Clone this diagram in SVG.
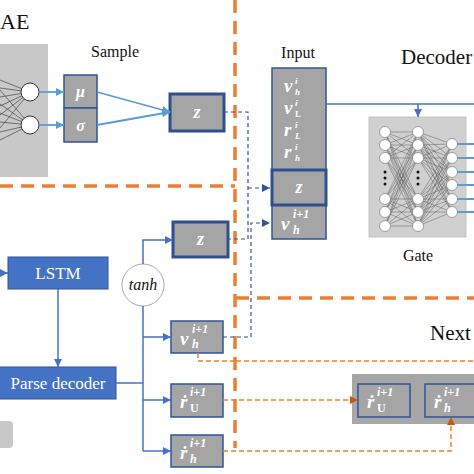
<svg xmlns="http://www.w3.org/2000/svg" width="474" height="474" viewBox="0 0 474 474">
<style>
.lbl{font-family:"Liberation Serif",serif;fill:#111}
.m{font-family:"Liberation Serif",serif;font-style:italic;font-weight:bold;fill:#fff}
.up{font-family:"Liberation Serif",serif;font-weight:bold;fill:#fff}
.box{fill:#a5a5a5;stroke:#2f5597;stroke-width:1.5}
.zbox{fill:#a5a5a5;stroke:#2f4f8f;stroke-width:3}
.blue{fill:#4472c4;stroke:#2f5597;stroke-width:1}
.ln{fill:none;stroke:#4472c4;stroke-width:1.5}
.lb{fill:none;stroke:#5b9bd5;stroke-width:1.8}
.bd{fill:none;stroke:#2f5597;stroke-width:1.2;stroke-dasharray:4 3}
.od{fill:none;stroke:#ed7d31;stroke-width:1.5;stroke-dasharray:5 3}
.ot{fill:none;stroke:#ed7d31;stroke-width:3.5;stroke-dasharray:13 8}
.node{fill:#fff;stroke:#888;stroke-width:0.8}
.net{fill:none;stroke:#555;stroke-width:0.45}
</style>
<defs>
<marker id="ab" markerUnits="userSpaceOnUse" markerWidth="8" markerHeight="8" refX="8" refY="4" orient="auto"><path d="M0,0 L8,4 L0,8 z" fill="#4472c4"/></marker>
<marker id="al" markerUnits="userSpaceOnUse" markerWidth="8" markerHeight="8" refX="8" refY="4" orient="auto"><path d="M0,0 L8,4 L0,8 z" fill="#5b9bd5"/></marker>
<marker id="ad" markerUnits="userSpaceOnUse" markerWidth="8" markerHeight="8" refX="8" refY="4" orient="auto"><path d="M0,0 L8,4 L0,8 z" fill="#2f5597"/></marker>
<marker id="ao" markerUnits="userSpaceOnUse" markerWidth="8" markerHeight="8" refX="8" refY="4" orient="auto"><path d="M0,0 L8,4 L0,8 z" fill="#c55a11"/></marker>
</defs>
<rect width="474" height="474" fill="#fff"/>

<!-- region borders -->
<g id="regions">
<path class="ot" d="M235,0 V448"/>
<path class="ot" d="M0,186 H235"/>
<path class="ot" d="M236,298 H474"/>
<path class="od" d="M236,361 H474"/>
<text class="lbl" x="0" y="29" font-size="22">AE</text>
<text class="lbl" x="401" y="64" font-size="21">Decoder</text>
<text class="lbl" x="430" y="340" font-size="21">Next</text>
</g>

<!-- encoder -->
<g id="encoder">
<rect x="-2" y="44" width="50" height="133" fill="#c8c8c8"/>
<path d="M0,80 L30,92 M0,88 L30,92 M0,97 L30,92 M0,106 L30,92 M0,115 L30,92 M0,104 L30,125 M0,113 L30,125 M0,122 L30,125 M0,132 L30,125 M0,140 L30,125 M0,90 L30,125 M0,128 L30,92" fill="none" stroke="#555" stroke-width="0.8"/>
<circle cx="30" cy="92" r="9" fill="#fff" stroke="#333" stroke-width="1"/>
<circle cx="30" cy="125" r="9" fill="#fff" stroke="#333" stroke-width="1"/>
</g>

<g id="sample">
<text class="lbl" x="115" y="57" font-size="16" text-anchor="middle">Sample</text>
</g>
<g id="mu"><rect class="box" x="64" y="75" width="33" height="33"/><text class="m" x="80.5" y="97" font-size="16" text-anchor="middle">μ</text></g>
<g id="sigma"><rect class="box" x="64" y="108" width="33" height="34"/><text class="m" x="80.5" y="131" font-size="16" text-anchor="middle">σ</text></g>
<g id="z_top"><rect class="zbox" x="170" y="94" width="54" height="37"/><text class="m" x="197" y="118" font-size="18" text-anchor="middle">z</text></g>

<!-- input column -->
<g id="input">
<text class="lbl" x="298" y="58" font-size="16" text-anchor="middle">Input</text>
<rect class="box" x="272" y="68" width="54" height="171"/>
<text class="m" x="284" y="92" font-size="19">v</text><text class="m" x="295" y="84" font-size="9">i</text><text class="m" x="295" y="95" font-size="9">h</text>
<text class="m" x="284" y="114" font-size="19">v</text><text class="m" x="295" y="106" font-size="9">i</text><text class="up" x="295" y="117" font-size="9">L</text>
<text class="m" x="284" y="136" font-size="19">r</text><text class="m" x="295" y="128" font-size="9">i</text><text class="m" x="295" y="139" font-size="9">L</text>
<text class="m" x="284" y="158" font-size="19">r</text><text class="m" x="295" y="150" font-size="9">i</text><text class="m" x="295" y="161" font-size="9">h</text>
</g>
<g id="z_input"><rect class="zbox" x="272" y="170" width="54" height="35"/><text class="m" x="299" y="193" font-size="18" text-anchor="middle">z</text></g>
<g id="vh_input"><text class="m" x="281" y="230" font-size="19">v</text><text class="m" x="293" y="218" font-size="12">i+1</text><text class="m" x="293" y="234" font-size="12">h</text></g>

<!-- gate -->
<g id="gate">
<rect x="369" y="117" width="97" height="120" fill="#d0d0d0" stroke="#bbb" stroke-width="0.8"/>
<path class="net" d="M385,132 L418,132 M385,132 L418,145 M385,132 L418,158 M385,132 L418,199 M385,132 L418,212 M385,132 L418,226
M385,145 L418,132 M385,145 L418,145 M385,145 L418,158 M385,145 L418,199 M385,145 L418,212 M385,145 L418,226
M385,158 L418,132 M385,158 L418,145 M385,158 L418,158 M385,158 L418,199 M385,158 L418,212 M385,158 L418,226
M385,199 L418,132 M385,199 L418,145 M385,199 L418,158 M385,199 L418,199 M385,199 L418,212 M385,199 L418,226
M385,212 L418,132 M385,212 L418,145 M385,212 L418,158 M385,212 L418,199 M385,212 L418,212 M385,212 L418,226
M385,226 L418,132 M385,226 L418,145 M385,226 L418,158 M385,226 L418,199 M385,226 L418,212 M385,226 L418,226
M418,132 L452,144 M418,132 L452,158 M418,132 L452,172 M418,132 L452,185 M418,132 L452,199 M418,132 L452,212
M418,145 L452,144 M418,145 L452,158 M418,145 L452,172 M418,145 L452,185 M418,145 L452,199 M418,145 L452,212
M418,158 L452,144 M418,158 L452,158 M418,158 L452,172 M418,158 L452,185 M418,158 L452,199 M418,158 L452,212
M418,199 L452,144 M418,199 L452,158 M418,199 L452,172 M418,199 L452,185 M418,199 L452,199 M418,199 L452,212
M418,212 L452,144 M418,212 L452,158 M418,212 L452,172 M418,212 L452,185 M418,212 L452,199 M418,212 L452,212
M418,226 L452,144 M418,226 L452,158 M418,226 L452,172 M418,226 L452,185 M418,226 L452,199 M418,226 L452,212"/>
<g class="node">
<circle cx="385" cy="132" r="5.5"/><circle cx="385" cy="145" r="5.5"/><circle cx="385" cy="158" r="5.5"/><circle cx="385" cy="199" r="5.5"/><circle cx="385" cy="212" r="5.5"/><circle cx="385" cy="226" r="5.5"/>
<circle cx="418" cy="132" r="5.5"/><circle cx="418" cy="145" r="5.5"/><circle cx="418" cy="158" r="5.5"/><circle cx="418" cy="199" r="5.5"/><circle cx="418" cy="212" r="5.5"/><circle cx="418" cy="226" r="5.5"/>
<circle cx="452" cy="144" r="5.5"/><circle cx="452" cy="158" r="5.5"/><circle cx="452" cy="172" r="5.5"/><circle cx="452" cy="185" r="5.5"/><circle cx="452" cy="199" r="5.5"/><circle cx="452" cy="212" r="5.5"/>
</g>
<g fill="#111"><circle cx="385" cy="172" r="1.5"/><circle cx="385" cy="178" r="1.5"/><circle cx="385" cy="184" r="1.5"/><circle cx="418" cy="172" r="1.5"/><circle cx="418" cy="178" r="1.5"/><circle cx="418" cy="184" r="1.5"/></g>
<text class="lbl" x="418" y="261" font-size="16" text-anchor="middle">Gate</text>
</g>

<!-- lower left -->
<g id="lstm"><rect class="blue" x="8" y="257" width="100" height="32"/><text x="58" y="279" font-family="Liberation Serif,serif" font-size="17" fill="#fff" text-anchor="middle">LSTM</text></g>
<g id="parse"><rect class="blue" x="-2" y="367" width="118" height="32"/><text x="58" y="389" font-family="Liberation Serif,serif" font-size="17" fill="#fff" text-anchor="middle">Parse decoder</text></g>
<g id="misc"><rect x="-8" y="421" width="21" height="27" rx="4" fill="#c8c8c8"/></g>
<g id="tanh"><circle cx="143" cy="285" r="21" fill="#fff" stroke="#aaa" stroke-width="1"/><text x="143" y="290" font-family="Liberation Serif,serif" font-style="italic" font-size="16" fill="#111" text-anchor="middle">tanh</text></g>
<g id="z_mid"><rect class="zbox" x="173" y="222" width="55" height="35"/><text class="m" x="200.5" y="245" font-size="18" text-anchor="middle">z</text></g>
<g id="vh_next"><rect class="box" x="171" y="321" width="52" height="32"/><text class="m" x="180" y="345" font-size="19">v</text><text class="m" x="192" y="333" font-size="12">i+1</text><text class="m" x="192" y="348" font-size="12">h</text></g>
<g id="rU_next"><rect class="box" x="171" y="384" width="52" height="33"/><text class="m" x="180" y="408" font-size="19">ṙ</text><text class="m" x="190" y="396" font-size="12">i+1</text><text class="up" x="190" y="412" font-size="12">U</text></g>
<g id="rh_next"><rect class="box" x="171" y="435" width="52" height="32"/><text class="m" x="180" y="459" font-size="19">ṙ</text><text class="m" x="190" y="447" font-size="12">i+1</text><text class="m" x="190" y="463" font-size="12">h</text></g>

<!-- next panel -->
<g id="next_panel">
<rect x="352" y="374" width="124" height="50" fill="#a6a6a6"/>
<rect class="box" x="358" y="384" width="52" height="33"/><text class="m" x="367" y="408" font-size="19">ṙ</text><text class="m" x="377" y="396" font-size="12">i+1</text><text class="up" x="377" y="412" font-size="12">U</text>
<rect class="box" x="425" y="384" width="52" height="33"/><text class="m" x="434" y="408" font-size="19">ṙ</text><text class="m" x="444" y="396" font-size="12">i+1</text><text class="m" x="444" y="412" font-size="12">h</text>
</g>

<!-- connectors -->
<g id="connectors">
<path class="lb" d="M39,92 H64" marker-end="url(#al)"/>
<path class="lb" d="M39,125 H64" marker-end="url(#al)"/>
<path class="lb" d="M97,92 L170,112" marker-end="url(#al)"/>
<path class="lb" d="M97,125 L170,112" marker-end="url(#al)"/>
<path class="ln" d="M326,104 H474"/>
<path class="ln" d="M418,104 V117" marker-end="url(#ab)"/>
<path class="lb" d="M457,144 H474 M457,158 H474 M457,172 H474 M457,185 H474 M457,199 H474 M457,212 H474"/>
<path class="ln" d="M0,273 H8" marker-end="url(#ab)"/>
<path class="ln" d="M58,289 V367" marker-end="url(#ab)"/>
<path class="ln" d="M116,383 H143"/>
<path class="ln" d="M143,264 V240 H173" marker-end="url(#ab)"/>
<path class="ln" d="M143,306 V451"/>
<path class="ln" d="M143,337 H171" marker-end="url(#ab)"/>
<path class="ln" d="M143,400 H171" marker-end="url(#ab)"/>
<path class="ln" d="M143,451 H171" marker-end="url(#ab)"/>
<path class="bd" d="M224,112 H248 V239 H228"/>
<path class="bd" d="M248,188 H270" marker-end="url(#ad)"/>
<path class="bd" d="M223,337 H251 V223 H270" marker-end="url(#ad)"/>
<path class="od" d="M198,353 V361 H236"/>
<path class="od" d="M223,400 H358" marker-end="url(#ao)"/>
<path class="od" d="M223,451 H451 V417" marker-end="url(#ao)"/>
</g>
</svg>
